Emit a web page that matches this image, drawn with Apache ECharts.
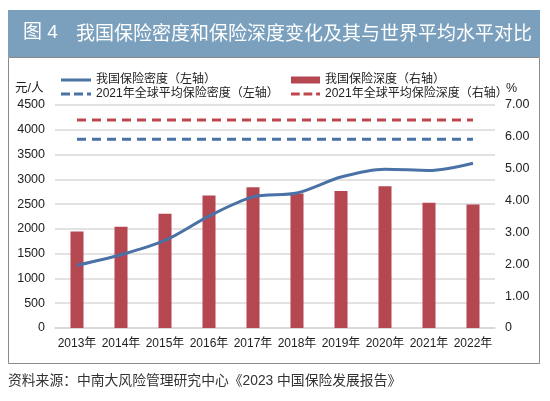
<!DOCTYPE html>
<html>
<head>
<meta charset="utf-8">
<script src="https://cdn.jsdelivr.net/npm/echarts@6/dist/echarts.min.js"></script>
<style>
  html, body { margin: 0; padding: 0; background: #fff; }
  #main { width: 550px; height: 401px; }
</style>
</head>
<body>
<div id="main"></div>
<script>
// 年份
const years = ['2013年', '2014年', '2015年', '2016年', '2017年', '2018年', '2019年', '2020年', '2021年', '2022年']
// 我国保险密度 元/人（左轴）
const density = [1266, 1479, 1766, 2258, 2646, 2724, 3046, 3205, 3179, 3326]
// 我国保险深度 %（右轴）
const depth = [3.03, 3.18, 3.59, 4.16, 4.42, 4.22, 4.30, 4.45, 3.93, 3.88]
// 2021年全球平均
const worldDensity = 3810
const worldDepth = 6.53

const FONT = '"Liberation Sans", "Noto Sans CJK SC", sans-serif'
const CJK = '"Noto Sans CJK SC", sans-serif'

const chart = echarts.init(document.getElementById('main'))

const legendText = { fontSize: 12, color: '#222', lineHeight: 14, fontFamily: FONT }
// 图例图标：实线、虚线
const solidIcon = 'path://M0,0H30V3H0Z'
const dashIcon = 'path://M0,0H9V3H0Z M13,0H22V3H13Z M26,0H30V3H26Z'

const option = {
  animation: false,
  textStyle: { fontFamily: FONT },
  grid: { left: 55, right: 55, top: 105, bottom: 73 },
  legend: [
    {
      orient: 'vertical',
      left: 56, top: 68,
      itemWidth: 30, itemHeight: 7, itemGap: 0,
      textStyle: legendText,
      data: [
        { name: '我国保险密度（左轴）', icon: solidIcon },
        { name: '2021年全球平均保险密度（左轴）', icon: dashIcon }
      ]
    },
    {
      orient: 'vertical',
      left: 286, top: 68,
      itemWidth: 29, itemHeight: 7, itemGap: 0,
      textStyle: legendText,
      data: [
        { name: '我国保险深度（右轴）', icon: 'rect' },
        { name: '2021年全球平均保险深度（右轴）', icon: dashIcon }
      ]
    }
  ],
  xAxis: {
    type: 'category',
    data: years,
    axisLine: { lineStyle: { color: '#d6d6d6', width: 1.5 } },
    axisTick: { show: false },
    axisLabel: { fontSize: 12, color: '#222', margin: 10, interval: 0 }
  },
  yAxis: [
    {
      type: 'value', min: 0, max: 4500, interval: 500,
      axisLine: { show: false }, axisTick: { show: false },
      axisLabel: { fontSize: 12.5, color: '#222', margin: 10, formatter: v => String(v) },
      splitLine: { lineStyle: { color: '#d9d9d9', width: 1.5 } }
    },
    {
      type: 'value', min: 0, max: 7, interval: 1,
      axisLine: { show: false }, axisTick: { show: false },
      axisLabel: {
        fontSize: 12.5, color: '#222', margin: 10,
        formatter: v => v === 0 ? '0' : v.toFixed(2)
      },
      splitLine: { show: false }
    }
  ],
  series: [
    {
      name: '我国保险深度（右轴）',
      type: 'bar', yAxisIndex: 1,
      data: depth,
      barWidth: 13,
      itemStyle: { color: '#b4474f' }
    },
    {
      name: '我国保险密度（左轴）',
      type: 'line', yAxisIndex: 0,
      data: density,
      smooth: 0.3,
      symbol: 'none',
      lineStyle: { color: '#4a72a6', width: 3 },
      itemStyle: { color: '#4a72a6' }
    },
    {
      name: '2021年全球平均保险密度（左轴）',
      type: 'line', yAxisIndex: 0,
      data: years.map(() => worldDensity),
      symbol: 'none',
      lineStyle: { color: '#4a72a6', width: 3, type: [9, 6] },
      itemStyle: { color: '#4a72a6' }
    },
    {
      name: '2021年全球平均保险深度（右轴）',
      type: 'line', yAxisIndex: 1,
      data: years.map(() => worldDepth),
      symbol: 'none',
      lineStyle: { color: '#c0464e', width: 3, type: [9, 6] },
      itemStyle: { color: '#c0464e' }
    }
  ],
  graphic: [
    // 标题栏
    { type: 'rect', shape: { x: 8, y: 10, width: 532, height: 47 }, style: { fill: '#7ba0be' }, z: 0 },
    { type: 'text', x: 23, y: 33, style: { text: '图 4', fill: '#fff', font: '19px ' + FONT, textVerticalAlign: 'middle' } },
    { type: 'text', x: 76, y: 33, style: { text: '我国保险密度和保险深度变化及其与世界平均水平对比', fill: '#fff', font: '19px ' + CJK, textVerticalAlign: 'middle' } },
    // 外框
    { type: 'rect', shape: { x: 8.5, y: 57.5, width: 531, height: 306 }, style: { fill: 'none', stroke: '#8a8a8a', lineWidth: 1 }, z: 0 },
    // 单位
    { type: 'text', x: 15, y: 89, style: { text: '元/人', fill: '#222', font: '12.5px ' + FONT, textVerticalAlign: 'middle' } },
    { type: 'text', x: 506, y: 89, style: { text: '%', fill: '#222', font: '12.5px ' + FONT, textVerticalAlign: 'middle' } },
    // 资料来源
    { type: 'text', x: 8, y: 381, style: { text: '资料来源：中南大风险管理研究中心《2023 中国保险发展报告》', fill: '#333', font: '13.8px ' + FONT, textVerticalAlign: 'middle' } }
  ]
}

chart.setOption(option)
</script>
</body>
</html>
